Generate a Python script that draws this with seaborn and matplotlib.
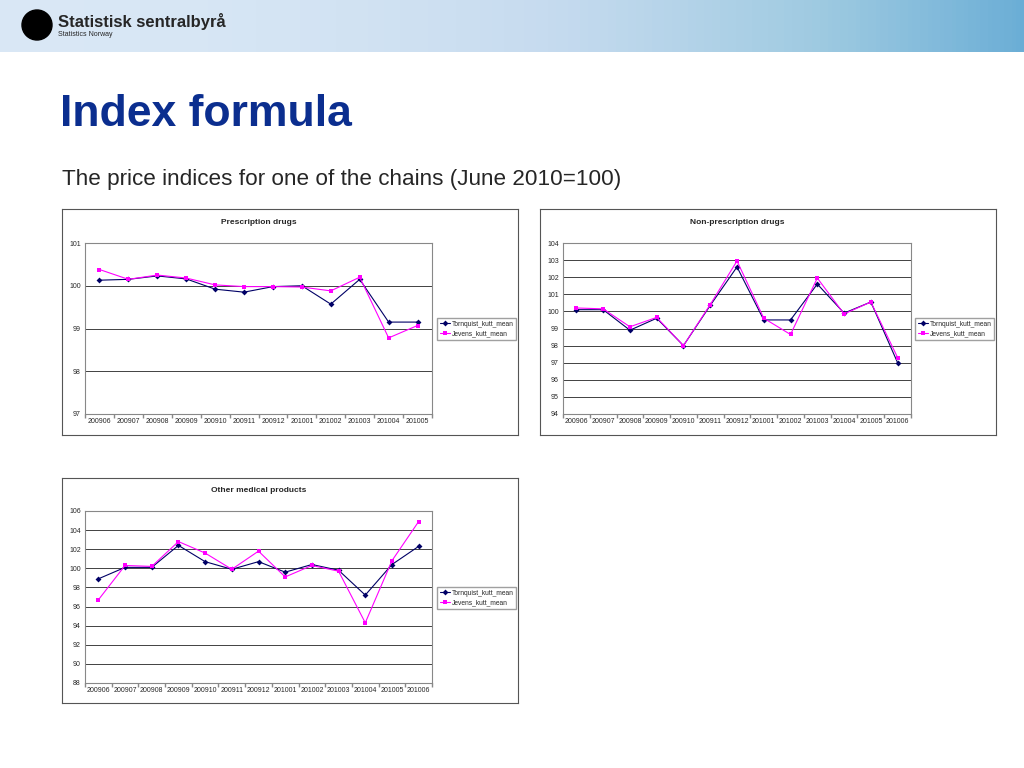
import matplotlib
matplotlib.use("Agg")
import matplotlib.pyplot as plt
from matplotlib.patches import Ellipse
import numpy as np
import pandas as pd
import seaborn as sns

periods = ["200906", "200907", "200908", "200909", "200910", "200911", "200912",
           "201001", "201002", "201003", "201004", "201005", "201006"]

presc_torn = [100.13, 100.15, 100.23, 100.16, 99.92, 99.85, 99.98, 100.0, 99.57, 100.15, 99.15, 99.15]
presc_jev = [100.38, 100.15, 100.25, 100.18, 100.02, 99.98, 99.98, 99.97, 99.88, 100.2, 98.78, 99.07]

nonp_torn = [100.1, 100.1, 98.9, 99.6, 98.0, 100.35, 102.6, 99.5, 99.5, 101.6, 99.9, 100.55, 97.0]
nonp_jev = [100.2, 100.15, 99.1, 99.65, 98.0, 100.4, 102.95, 99.6, 98.65, 101.95, 99.85, 100.55, 97.3]

other_torn = [98.9, 100.1, 100.1, 102.4, 100.7, 99.9, 100.7, 99.6, 100.4, 99.8, 97.2, 100.4, 102.3]
other_jev = [96.7, 100.3, 100.2, 102.8, 101.6, 99.9, 101.8, 99.1, 100.3, 99.7, 94.3, 100.8, 104.9]

sns.set_theme(style="white")
plt.rcParams['font.family'] = ['Liberation Sans', 'DejaVu Sans']

W, H = 1024, 768
fig = plt.figure(figsize=(W / 100, H / 100), dpi=100)
fig.patch.set_facecolor("white")


def fbox(x0, y0, x1, y1):
    return [x0 / W, 1 - y1 / H, (x1 - x0) / W, (y1 - y0) / H]


# header banner
ban = fig.add_axes(fbox(0, 0, W, 52))
grad = np.linspace(0, 1, 256)[None, :]
ban.imshow(0.15 + 0.35 * grad ** 2, aspect="auto", cmap="Blues", vmin=0, vmax=1, extent=(0, 1, 0, 1))
ban.axis("off")
fig.add_artist(Ellipse((37 / W, 1 - 25 / H), 30 / W, 30 / H, transform=fig.transFigure, color="black"))
fig.text(58 / W, 1 - 22 / H, "Statistisk sentralbyrå", fontsize=12, fontweight="bold", va="center")
fig.text(58 / W, 1 - 35 / H, "Statistics Norway", fontsize=5, va="center")

fig.text(60 / W, 1 - 115 / H, "Index formula", fontsize=32, fontweight="bold", color="#0b2e8f", va="center")
fig.text(62 / W, 1 - 179 / H, "The price indices for one of the chains (June 2010=100)", fontsize=16.2, va="center")


def panel(frame, plot, legpos, title, torn, jev, ylim, step):
    fr = fig.add_axes(fbox(*frame))
    fr.set_xticks([]); fr.set_yticks([])
    for s in fr.spines.values():
        s.set_color("#555555"); s.set_linewidth(0.8)
    fr.set_zorder(0)
    ax = fig.add_axes(fbox(*plot))
    n = len(torn)
    df = pd.DataFrame({"x": list(range(n)) * 2, "y": torn + jev,
                       "series": ["Tornquist_kutt_mean"] * n + ["Jevens_kutt_mean"] * n})
    sns.lineplot(data=df, x="x", y="y", hue="series", style="series",
                 palette=["#000066", "#ff00ff"], markers=["D", "s"], dashes=False,
                 markersize=3, linewidth=0.8, markeredgewidth=0, ax=ax)
    ax.set_xlim(-0.5, n - 0.5)
    ax.set_ylim(*ylim)
    ax.set_yticks(np.arange(ylim[0], ylim[1] + 0.01, step))
    ax.set_xticks(range(n))
    ax.set_xticklabels(periods[:n])
    ax.set_xticks(np.arange(-0.5, n, 1), minor=True)
    ax.tick_params(axis="both", labelsize=5, length=0, pad=3)
    ax.tick_params(axis="x", which="minor", length=3, color="#888888", bottom=True)
    ax.grid(axis="y", color="#222222", linewidth=0.6)
    ax.set_axisbelow(True)
    for s in ax.spines.values():
        s.set_color("#888888"); s.set_linewidth(0.8)
    ax.set_xlabel(""); ax.set_ylabel("")
    ax.set_title(title, fontsize=6, fontweight="bold", pad=14)
    handles, labels = ax.get_legend_handles_labels()
    ax.legend().remove()
    lx, ly = legpos
    fig.legend(handles, labels, loc="upper left", bbox_to_anchor=(lx / W, 1 - ly / H),
               fontsize=4.8, frameon=True, fancybox=False, edgecolor="#888888",
               handlelength=1.5, handletextpad=0.3, borderpad=0.4, labelspacing=0.4,
               borderaxespad=0)


panel((62, 209, 518, 435), (85, 243, 432, 414), (437, 318), "Prescription drugs",
      presc_torn, presc_jev, (97, 101), 1)
panel((540, 209, 996, 435), (563, 243, 911, 414), (915, 318), "Non-prescription drugs",
      nonp_torn, nonp_jev, (94, 104), 1)
panel((62, 478, 518, 703), (85, 511, 432, 683), (437, 587), "Other medical products",
      other_torn, other_jev, (88, 106), 2)

fig.savefig("out.png", dpi=100, facecolor="white")
